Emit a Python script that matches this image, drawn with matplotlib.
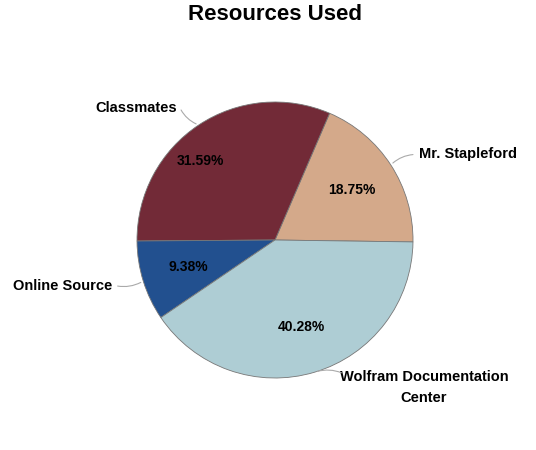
import numpy as np
import matplotlib.pyplot as plt

plt.rcParams['font.family'] = ['Liberation Sans', 'DejaVu Sans']

labels = ["Mr. Stapleford", "Classmates", "Online Source", "Wolfram Documentation\nCenter"]
values = [18.75, 31.59, 9.38, 40.28]
colors = ["#D4A98A", "#722A37", "#22508F", "#AECDD4"]

fig = plt.figure(figsize=(5.36, 4.5), dpi=100)
ax = fig.add_axes([137 / 536, 72 / 450, 276 / 536, 276 / 450])

wedges, texts, pcts = ax.pie(values, colors=colors, startangle=-0.8, counterclock=True,
                             autopct='%.2f%%', pctdistance=0.66,
                             wedgeprops=dict(edgecolor='#777777', linewidth=0.6),
                             textprops=dict(fontsize=10, fontweight='bold', color='black'))
pcts[1].set_position((-0.54, 0.57))
ax.set_xlim(-1, 1)
ax.set_ylim(-1, 1)

# outside labels with leader lines
label_pos = [(1.04, 0.62), (-0.71, 0.96), (-1.18, -0.33), (1.08, -1.07)]
aligns = ['left', 'right', 'right', 'center']
for w, lab, pos, ha in zip(wedges, labels, label_pos, aligns):
    mid = np.deg2rad((w.theta1 + w.theta2) / 2)
    edge = (np.cos(mid), np.sin(mid))
    if ha == 'center':
        tx = (pos[0] - 0.58, pos[1] + 0.1)
    elif ha == 'left':
        tx = (pos[0] - 0.02, pos[1])
    else:
        tx = (pos[0] + 0.02, pos[1])
    ax.annotate(lab, xy=edge, xytext=pos if ha != 'center' else pos,
                ha=ha, va='center', fontsize=10.5, fontweight='bold',
                linespacing=1.6, annotation_clip=False)
    ax.annotate('', xy=edge, xytext=tx, annotation_clip=False,
                arrowprops=dict(arrowstyle='-', color='#AAAAAA', lw=0.8,
                                connectionstyle='arc3,rad=0.2'))

fig.text(275 / 536, 1 - 14 / 450, "Resources Used", ha='center', va='center',
         fontsize=16, fontweight='bold')

fig.savefig("out.png", dpi=100)
